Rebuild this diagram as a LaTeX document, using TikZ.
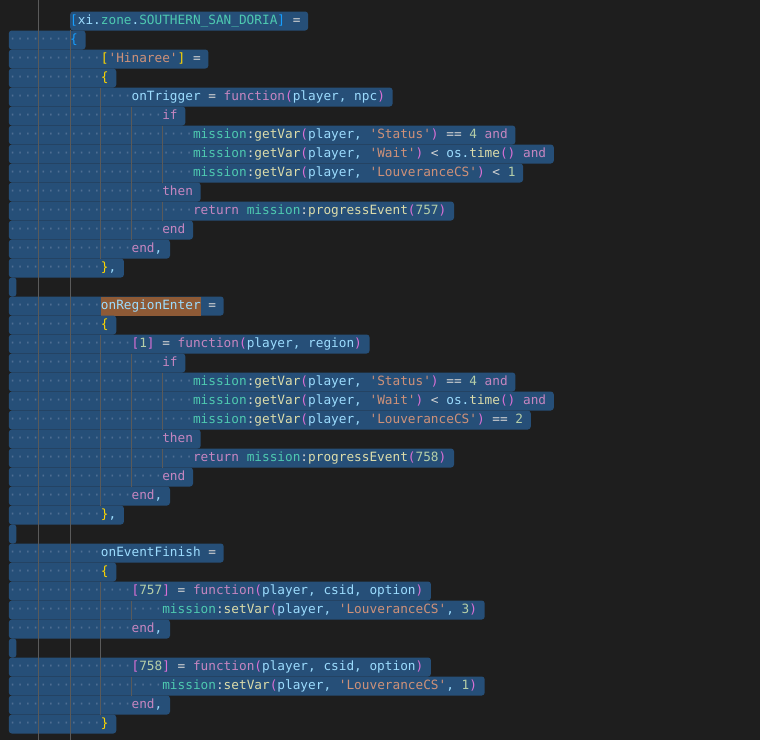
\documentclass[tikz,border=0pt]{standalone}
\usepackage{fontspec}
\setmonofont{DejaVu Sans Mono}
\definecolor{bg}{HTML}{1E1E1E}
\definecolor{sel}{HTML}{264F78}
\definecolor{idc}{HTML}{9CDCFE}
\definecolor{kw}{HTML}{C586C0}
\definecolor{strc}{HTML}{CE9178}
\definecolor{numc}{HTML}{B5CEA8}
\definecolor{fnc}{HTML}{DCDCAA}
\definecolor{cls}{HTML}{4EC9B0}
\definecolor{opc}{HTML}{D4D4D4}
\definecolor{bA}{HTML}{FFD700}
\definecolor{bB}{HTML}{DA70D6}
\definecolor{bC}{HTML}{179FFF}
\definecolor{dotc}{HTML}{4F6F94}
\definecolor{guide}{HTML}{5A5A5A}
\definecolor{hl}{HTML}{8E5A36}
\newcommand\codefont{\ttfamily\fontsize{12.75}{19}\selectfont}
\newcommand\cK[1]{\textcolor{kw}{#1}}
\newcommand\cS[1]{\textcolor{strc}{\char"27 #1\char"27}}
\newcommand\cN[1]{\textcolor{numc}{#1}}
\newcommand\cF[1]{\textcolor{fnc}{#1}}
\newcommand\cC[1]{\textcolor{cls}{#1}}
\newcommand\cO[1]{\textcolor{opc}{#1}}
\newcommand\cPA[1]{\textcolor{bA}{#1}}
\newcommand\cPB[1]{\textcolor{bB}{#1}}
\newcommand\cPC[1]{\textcolor{bC}{#1}}
\newcommand\cDots[1]{\textcolor{dotc}{\foreach\k in {1,...,#1}{·}}}
\newcommand\cGV{\cC{mission}\cO{:}\cF{getVar}\cPB{(}player, }
\newcommand\cLn[3]{\node[codeline] (l#1) at (8.6,{-(21+19*(#1-1))}) {\cDots{#2}#3\phantom{x}};}
\newcommand\cBlank[1]{\node[codeline] (l#1) at (8.6,{-(21+19*(#1-1))}) {\phantom{x}};}
\tikzset{codeline/.style={anchor=west, inner xsep=0pt, inner ysep=0pt, text height=13pt, text depth=6pt, fill=sel, rounded corners=3pt, font=\codefont, text=idc}}
\begin{document}
\begin{tikzpicture}[x=1pt,y=1pt]
\fill[bg] (0,0) rectangle (760,-740);
\useasboundingbox (0,0) rectangle (760,-740);
\node[codeline] (l1) at (70,-21) {\cPC{[}xi.\cC{zone}.\cC{SOUTHERN\_SAN\_DORIA}\cPC{]} \cO{=}\phantom{x}};
\cLn{2}{8}{\cPC{\{}}
\cLn{3}{12}{\cPA{[}\cS{Hinaree}\cPA{]} \cO{=}}
\cLn{4}{12}{\cPA{\{}}
\cLn{5}{16}{onTrigger \cO{=} \cK{function}\cPB{(}player, npc\cPB{)}}
\cLn{6}{20}{\cK{if}}
\cLn{7}{24}{\cGV\cS{Status}\cPB{)} \cO{==} \cN{4} \cK{and}}
\cLn{8}{24}{\cGV\cS{Wait}\cPB{)} \cO{<} os.\cF{time}\cPB{()} \cK{and}}
\cLn{9}{24}{\cGV\cS{LouveranceCS}\cPB{)} \cO{<} \cN{1}}
\cLn{10}{20}{\cK{then}}
\cLn{11}{24}{\cK{return} \cC{mission}\cO{:}\cF{progressEvent}\cPB{(}\cN{757}\cPB{)}}
\cLn{12}{20}{\cK{end}}
\cLn{13}{16}{\cK{end},}
\cLn{14}{12}{\cPA{\}},}
\cBlank{15}
\cLn{16}{12}{{\setlength\fboxsep{0pt}\colorbox{hl}{\rule{0pt}{13pt}\rule[-6pt]{0pt}{0pt}onRegionEnter}} \cO{=}}
\cLn{17}{12}{\cPA{\{}}
\cLn{18}{16}{\cPB{[}\cN{1}\cPB{]} \cO{=} \cK{function}\cPB{(}player, region\cPB{)}}
\cLn{19}{20}{\cK{if}}
\cLn{20}{24}{\cGV\cS{Status}\cPB{)} \cO{==} \cN{4} \cK{and}}
\cLn{21}{24}{\cGV\cS{Wait}\cPB{)} \cO{<} os.\cF{time}\cPB{()} \cK{and}}
\cLn{22}{24}{\cGV\cS{LouveranceCS}\cPB{)} \cO{==} \cN{2}}
\cLn{23}{20}{\cK{then}}
\cLn{24}{24}{\cK{return} \cC{mission}\cO{:}\cF{progressEvent}\cPB{(}\cN{758}\cPB{)}}
\cLn{25}{20}{\cK{end}}
\cLn{26}{16}{\cK{end},}
\cLn{27}{12}{\cPA{\}},}
\cBlank{28}
\cLn{29}{12}{onEventFinish \cO{=}}
\cLn{30}{12}{\cPA{\{}}
\cLn{31}{16}{\cPB{[}\cN{757}\cPB{]} \cO{=} \cK{function}\cPB{(}player, csid, option\cPB{)}}
\cLn{32}{20}{\cC{mission}\cO{:}\cF{setVar}\cPB{(}player, \cS{LouveranceCS}, \cN{3}\cPB{)}}
\cLn{33}{16}{\cK{end},}
\cBlank{34}
\cLn{35}{16}{\cPB{[}\cN{758}\cPB{]} \cO{=} \cK{function}\cPB{(}player, csid, option\cPB{)}}
\cLn{36}{20}{\cC{mission}\cO{:}\cF{setVar}\cPB{(}player, \cS{LouveranceCS}, \cN{1}\cPB{)}}
\cLn{37}{16}{\cK{end},}
\cLn{38}{12}{\cPA{\}}}
\begin{scope}[guide, line width=0.8pt]
\draw (38.5,0) -- (38.5,-740);
\draw (70,-30) -- (70,-740);
\foreach \a/\b in {5/13,18/26,31/37} \draw (100.7,{-(11.5+19*(\a-1))}) -- (100.7,{-(11.5+19*\b)});
\foreach \a/\b in {6/12,19/25,32/32,36/36} \draw (131.4,{-(11.5+19*(\a-1))}) -- (131.4,{-(11.5+19*\b)});
\foreach \a/\b in {7/9,11/11,20/22,24/24} \draw (162.1,{-(11.5+19*(\a-1))}) -- (162.1,{-(11.5+19*\b)});
\end{scope}
\end{tikzpicture}
\end{document}
